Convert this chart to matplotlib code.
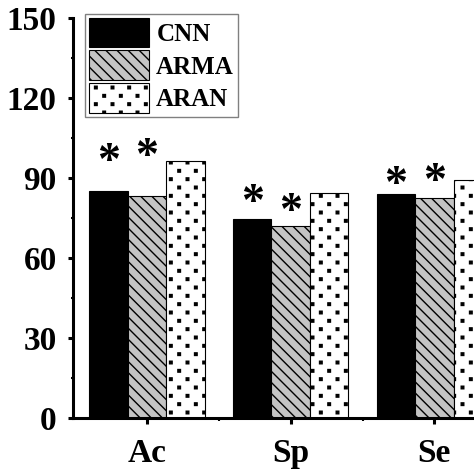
import numpy as np
import matplotlib
matplotlib.use("Agg")
import matplotlib.pyplot as plt
import matplotlib.hatch as mhatch
import matplotlib.transforms as mtransforms
from matplotlib.path import Path
from matplotlib.ticker import MultipleLocator, FixedLocator

# ---- data ----
categories = ["Ac", "Sp", "Se"]
series = ["CNN", "ARMA", "ARAN"]
cnn = [85.2, 74.5, 83.9]
arma = [83.4, 72.0, 82.4]
aran = [96.3, 84.3, 89.3]
star_cnn = [98.6, 83.0, 90.0]
star_arma = [100.5, 79.9, 91.1]
yticks = [0, 30, 60, 90, 120, 150]


# ---- custom square-dot hatch (replaces 'o') ----
class SquareDots(mhatch.HatchPatternBase):
    def __init__(self, hatch, density):
        self.n = hatch.count('o')
        self.cols = 6 * self.n
        self.rows = 12 * self.n
        self.num_shapes = self.cols * self.rows if self.n else 0
        self.num_vertices = self.num_shapes * 5

    def set_vertices_and_codes(self, vertices, codes):
        h = 0.013
        sq = np.array([[-h, -h], [h, -h], [h, h], [-h, h], [-h, -h]])
        sc = [Path.MOVETO, Path.LINETO, Path.LINETO, Path.LINETO, Path.CLOSEPOLY]
        vp, cp = [], []
        for k in range(self.rows):
            y = (k + 0.5) / self.rows
            sh = 0.25 if k % 2 == 0 else 0.75
            for j in range(self.cols):
                x = (j + sh) / self.cols
                vp.append(sq + [x, y])
                cp.append(sc)
        np.concatenate(vp, out=vertices)
        np.concatenate(cp, out=codes)


try:
    idx = mhatch._hatch_types.index(mhatch.SmallCircles)
    mhatch._hatch_types[idx] = SquareDots
    dot_hatch = 'o'
except Exception:
    dot_hatch = '.'

plt.rcParams['font.family'] = ['Liberation Serif', 'DejaVu Serif']
plt.rcParams['font.weight'] = 'bold'
plt.rcParams['hatch.linewidth'] = 1.0

W = 474
fig = plt.figure(figsize=(4.74, 4.74), dpi=100)
ax = fig.add_axes([72.7 / W, 56 / W, 1 - 72.7 / W, 400 / W])

x = np.arange(1, len(categories) + 1)
w = 0.268
ax.bar(x - w, cnn, w, color='black', edgecolor='black', linewidth=0.8, label=series[0])
ax.bar(x, arma, w, color='#c4c4c4', edgecolor='black', linewidth=0.8,
       hatch='\\\\\\', label=series[1])
ax.bar(x + w, aran, w, color='white', edgecolor='black', linewidth=0.8,
       hatch=dot_hatch, label=series[2])

star_tr = mtransforms.offset_copy(ax.transData, fig=fig, x=0, y=-5.5, units='points')
for xi, s1, s2 in zip(x, star_cnn, star_arma):
    ax.text(xi - w, s1, '*', ha='center', va='center', fontsize=33,
            fontweight='bold', transform=star_tr)
    ax.text(xi, s2, '*', ha='center', va='center', fontsize=33,
            fontweight='bold', transform=star_tr)

ax.set_xlim(0.483, 3.276)
ax.set_ylim(0, 150)
ax.set_yticks(yticks)
ax.yaxis.set_minor_locator(MultipleLocator(15))
ax.set_xticks(x)
ax.set_xticklabels(categories)
ax.xaxis.set_minor_locator(FixedLocator([1.5, 2.5, 3.5]))

for side in ['top', 'right']:
    ax.spines[side].set_visible(False)
for side in ['left', 'bottom']:
    ax.spines[side].set_linewidth(2.2)

ax.tick_params(axis='y', which='major', direction='out', length=3.5, width=2.2,
               labelsize=24, pad=8)
ax.tick_params(axis='y', which='minor', direction='out', length=1.8, width=1.5)
ax.tick_params(axis='x', which='major', direction='out', length=4.5, width=2.2,
               labelsize=24, pad=10)
ax.tick_params(axis='x', which='minor', direction='out', length=2.2, width=1.5)
for lbl in ax.get_xticklabels() + ax.get_yticklabels():
    lbl.set_fontweight('bold')

leg = ax.legend(loc='upper left', bbox_to_anchor=(85 / W, 1 - 14 / W),
                bbox_transform=fig.transFigure, borderaxespad=0,
                prop={'weight': 'bold', 'size': 18},
                handlelength=2.4, handleheight=1.45, labelspacing=0.12,
                borderpad=0.15, handletextpad=0.3, fancybox=False,
                framealpha=1, edgecolor='#808080')
leg.get_frame().set_linewidth(1.0)

fig.savefig('out.png', dpi=100)
